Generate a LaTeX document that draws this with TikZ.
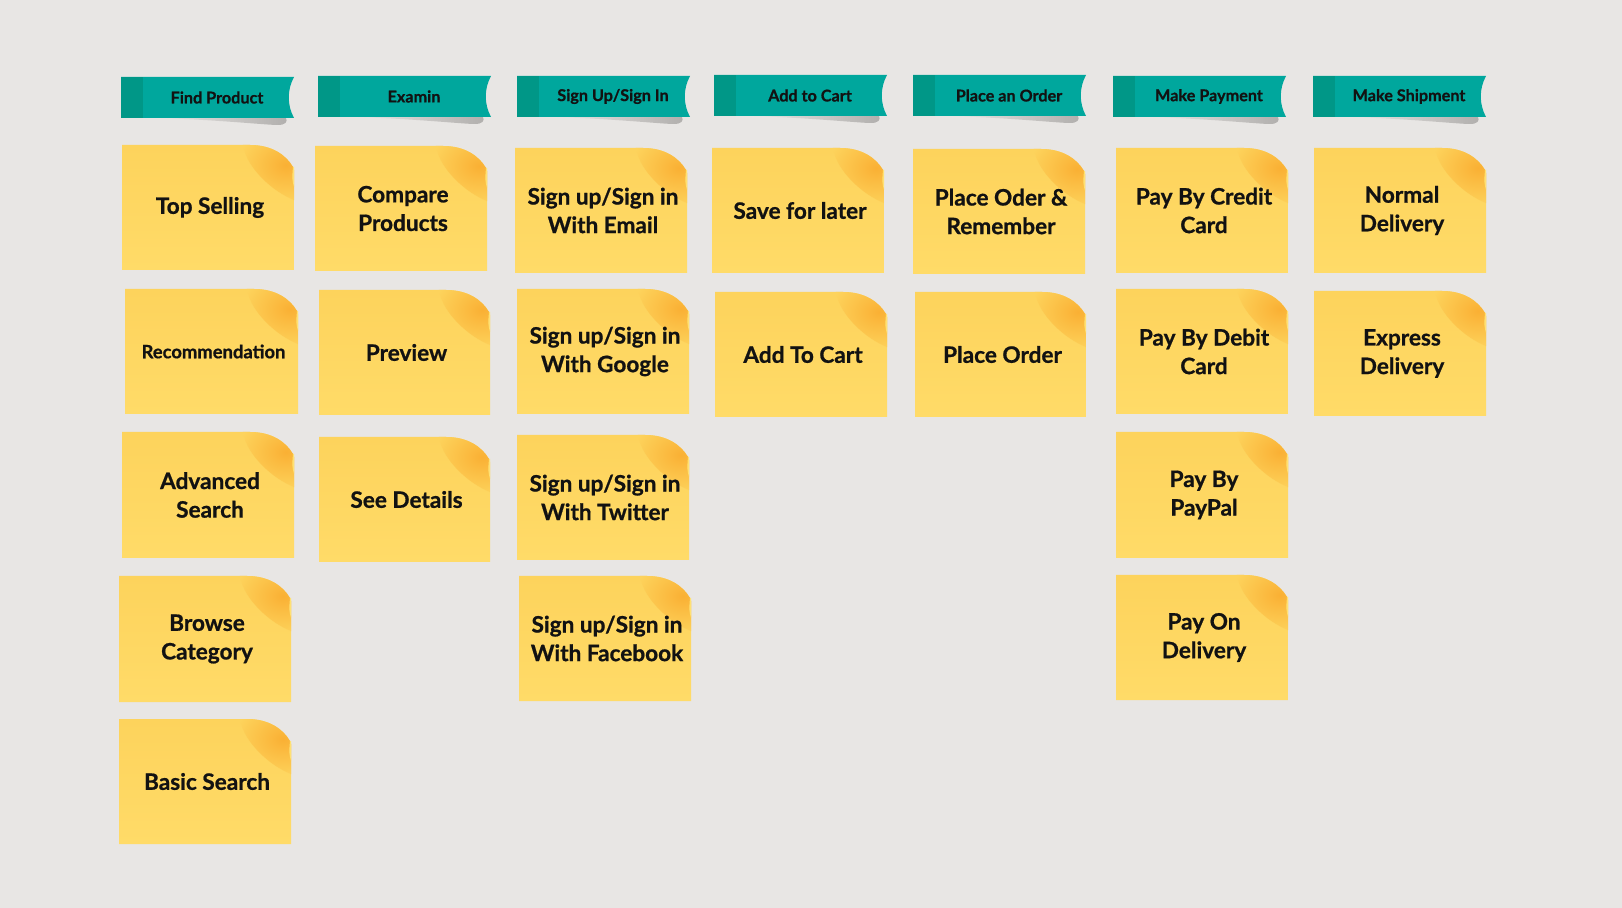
\documentclass[tikz,border=0pt]{standalone}
\usepackage{fontspec}
\setmainfont{Lato}[BoldFeatures={FakeBold=0.8}]
\definecolor{bgc}{RGB}{232,230,228}
\definecolor{tealA}{RGB}{0,167,157}
\definecolor{tealB}{RGB}{0,151,135}
\definecolor{noteTop}{RGB}{253,211,92}
\definecolor{noteBot}{RGB}{255,219,104}
\definecolor{noteL}{RGB}{255,225,115}
\definecolor{fold}{RGB}{250,176,52}
\definecolor{ink}{RGB}{18,18,18}
\definecolor{shad}{RGB}{110,108,106}
\tikzset{
  notetext/.style={font=\bfseries\fontsize{11.3}{14.3}\selectfont, text=ink, align=center, inner sep=0pt},
  smalltext/.style={notetext, font=\bfseries\fontsize{9.2}{11}\selectfont},
  bannertext/.style={font=\bfseries\fontsize{8.1}{10}\selectfont, text=ink, inner sep=0pt},
}
% [style] name, L, T, R, B, text
\newcommand\sticky[7][notetext]{%
  \shade[top color=noteTop, bottom color=noteBot] (#3,#4) -- ({#5-44},#4) .. controls ({#5-22},#4) and ({#5-8},{#4+10}) .. ({#5-1},{#4+22}) -- (#5,{#4+25}) -- (#5,#6) -- (#3,#6) -- cycle;
  \begin{scope}
    \clip (#3,#4) -- ({#5-44},#4) .. controls ({#5-22},#4) and ({#5-8},{#4+10}) .. ({#5-1},{#4+22}) -- (#5,{#4+25}) -- (#5,#6) -- (#3,#6) -- cycle;
    \shade[inner color=fold, outer color=noteTop, rotate around={-40:({#5-8},{#4+20})}] ({#5-8},{#4+20}) ellipse [x radius=52, y radius=26];
  \end{scope}
  \fill[noteL] ({#5-1},{#4+22}) -- (#5,{#4+22}) -- (#5,{#4+42}) .. controls ({#5-2},{#4+34}) .. cycle;
  \node[#1] (#2) at ({(#3+#5)/2+2},{(#4+#6)/2}) {#7};
}
% name, L, T, text
\newcommand\banner[4]{%
  \shade[left color=bgc, middle color=shad, right color=bgc!55!shad] ({#2+38},{#3+41}) .. controls ({#2+100},{#3+43}) and ({#2+145},{#3+48}) .. ({#2+157},{#3+48}) .. controls ({#2+164},{#3+48}) and ({#2+167},{#3+45}) .. ({#2+165},{#3+41}) -- cycle;
  \fill[tealA] (#2,#3) -- ({#2+173},#3) .. controls ({#2+166},{#3+13}) and ({#2+166},{#3+28}) .. ({#2+173},{#3+41}) -- (#2,{#3+41}) -- cycle;
  \fill[tealB] (#2,#3) rectangle ({#2+22},{#3+41});
  \node[bannertext] (#1) at ({#2+96},{#3+20.5}) {#4};
}
\begin{document}
\begin{tikzpicture}[x=0.5pt, y=-0.5pt]
\useasboundingbox (0,0) rectangle (1622,908);
\fill[bgc] (0,0) rectangle (1622,908);

\banner{h1}{121}{77}{Find Product}
\banner{h2}{318}{76}{Examin}
\banner{h3}{517}{76}{Sign Up/Sign In}
\banner{h4}{714}{75}{Add to Cart}
\banner{h5}{913}{75}{Place an Order}
\banner{h6}{1113}{76}{Make Payment}
\banner{h7}{1313}{76}{Make Shipment}

\sticky{n11}{122}{145}{294}{270}{Top Selling}
\sticky[smalltext]{n12}{125}{289}{298}{414}{Recommendation}
\sticky{n13}{122}{432}{294}{558}{Advanced\\Search}
\sticky{n14}{119}{576}{291}{702}{Browse\\Category}
\sticky{n15}{119}{719}{291}{844}{Basic Search}

\sticky{n21}{315}{146}{487}{271}{Compare\\Products}
\sticky{n22}{319}{290}{490}{415}{Preview}
\sticky{n23}{319}{437}{490}{562}{See Details}

\sticky{n31}{515}{148}{687}{273}{Sign up/Sign in\\With Email}
\sticky{n32}{517}{289}{689}{414}{Sign up/Sign in\\With Google}
\sticky{n33}{517}{435}{689}{560}{Sign up/Sign in\\With Twitter}
\sticky{n34}{519}{576}{691}{701}{Sign up/Sign in\\With Facebook}

\sticky{n41}{712}{148}{884}{273}{Save for later}
\sticky{n42}{715}{292}{887}{417}{Add To Cart}

\sticky{n51}{913}{149}{1085}{274}{Place Oder \&\\Remember}
\sticky{n52}{915}{292}{1086}{417}{Place Order}

\sticky{n61}{1116}{148}{1288}{273}{Pay By Credit\\Card}
\sticky{n62}{1116}{289}{1288}{414}{Pay By Debit\\Card}
\sticky{n63}{1116}{432}{1288}{558}{Pay By\\PayPal}
\sticky{n64}{1116}{575}{1288}{700}{Pay On\\Delivery}

\sticky{n71}{1314}{148}{1486}{273}{Normal\\Delivery}
\sticky{n72}{1314}{291}{1486}{416}{Express\\Delivery}
\end{tikzpicture}
\end{document}
